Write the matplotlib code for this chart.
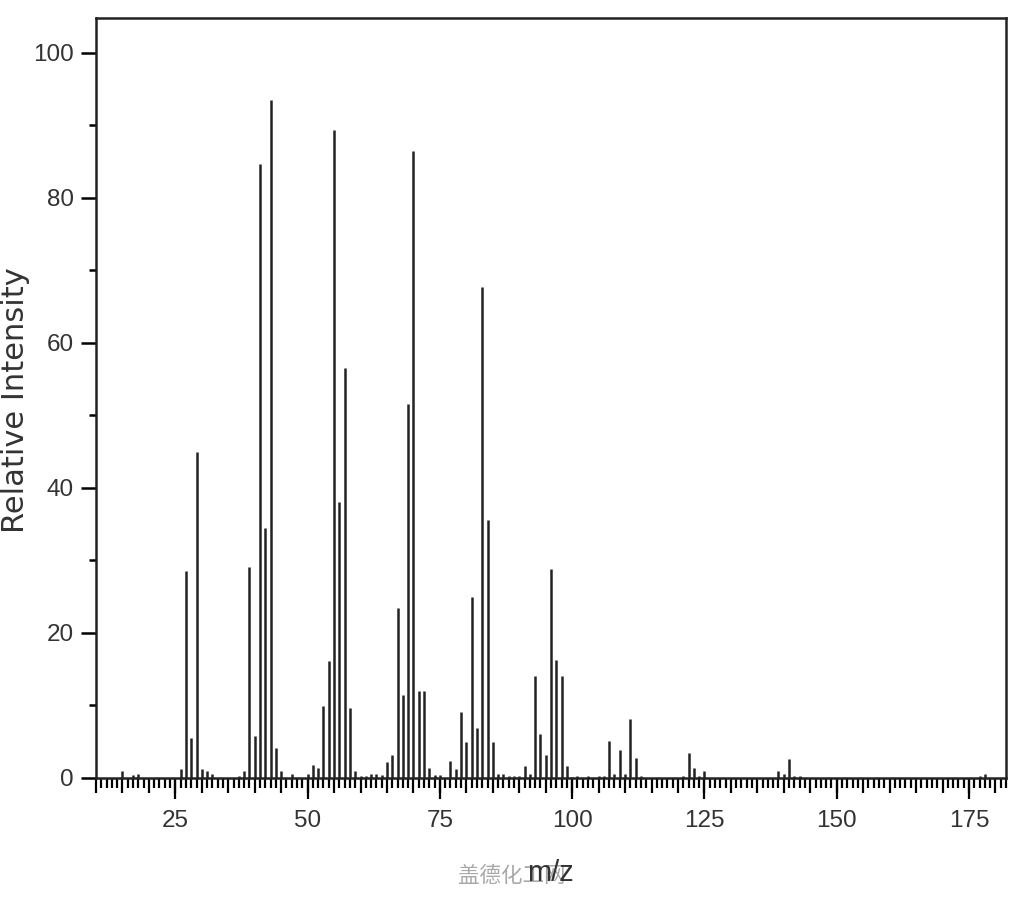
import matplotlib
matplotlib.use("Agg")
import matplotlib.pyplot as plt
from matplotlib.ticker import MultipleLocator, NullFormatter

# mass spectrum
mz = [15, 17, 18, 26, 27, 28, 29, 30, 31, 32, 37, 38, 39, 40, 41, 42, 43, 44, 45, 47,
      50, 51, 52, 53, 54, 55, 56, 57, 58, 59, 60, 61, 62, 63, 64, 65, 66, 67, 68, 69,
      70, 71, 72, 73, 74, 75, 77, 78, 79, 80, 81, 82, 83, 84, 85, 86, 87, 88, 89, 90,
      91, 92, 93, 94, 95, 96, 97, 98, 99, 100, 101, 103, 105, 106, 107, 108, 109, 110,
      111, 112, 113, 121, 122, 123, 124, 125, 139, 140, 141, 142, 143, 177, 178]
intensity = [0.9, 0.4, 0.6, 1.2, 28.6, 5.5, 45.0, 1.2, 0.9, 0.5, 0.3, 0.9, 29.1, 5.8, 84.6, 34.5, 93.5, 4.2, 0.9, 0.5,
             0.5, 1.8, 1.4, 9.9, 16.1, 89.4, 38.1, 56.6, 9.6, 0.9, 0.3, 0.3, 0.5, 0.6, 0.4, 2.2, 3.2, 23.5, 11.5, 51.6,
             86.5, 12.0, 12.0, 1.4, 0.4, 0.4, 2.4, 1.2, 9.1, 4.9, 24.9, 6.9, 67.7, 35.6, 4.9, 0.6, 0.5, 0.3, 0.3, 0.3,
             1.7, 0.6, 14.1, 6.0, 3.2, 28.8, 16.3, 14.1, 1.7, 0.2, 0.3, 0.3, 0.3, 0.3, 5.1, 0.6, 3.8, 0.6,
             8.1, 2.7, 0.3, 0.3, 3.5, 1.4, 0.3, 0.9, 0.9, 0.6, 2.6, 0.3, 0.3, 0.3, 0.5]

fig = plt.figure(figsize=(10.24, 9), dpi=100)
ax = fig.add_axes([96 / 1024, 122 / 900, 910 / 1024, 760 / 900])

ax.vlines(mz, 0, intensity, colors="#222222", linewidth=1.8)

ax.set_xlim(10, 182)
ax.set_ylim(0, 104.8)

for s in ax.spines.values():
    s.set_linewidth(1.8)
    s.set_color("#222222")

# y ticks
ax.yaxis.set_major_locator(MultipleLocator(20))
ax.yaxis.set_minor_locator(MultipleLocator(10))
ax.tick_params(axis="y", which="major", length=11, width=1.8, pad=5,
               labelsize=17.5, labelfontfamily="Liberation Sans", labelcolor="#333333")
ax.tick_params(axis="y", which="minor", length=5, width=1.8)

# x ticks: every unit short, every 5 medium, every 25 long with labels
ax.xaxis.set_major_locator(MultipleLocator(5))
ax.xaxis.set_minor_locator(MultipleLocator(1))
ax.xaxis.set_major_formatter(NullFormatter())
ax.tick_params(axis="x", which="major", length=11, width=1.6)
ax.tick_params(axis="x", which="minor", length=7, width=1.6)

sec = ax.secondary_xaxis("bottom")
sec.set_xticks([25, 50, 75, 100, 125, 150, 175])
sec.tick_params(length=15, width=1.6, pad=8, labelsize=17.5,
                labelfontfamily="Liberation Sans", labelcolor="#333333")
sec.spines["bottom"].set_visible(False)

ax.set_ylabel("Relative Intensity", fontsize=22, color="#333333", family="DejaVu Sans")
ax.yaxis.set_label_coords(-0.072, 0.497)

fig.text(512 / 1024, 1 - 876 / 900, "盖德化工网", fontsize=15.5, color="#a8a8a8",
         family=["Noto Sans CJK SC", "DejaVu Sans"], ha="center", va="center")
fig.text(550 / 1024, 1 - 873 / 900, "m/z", fontsize=21, color="#333333",
         family="Liberation Sans", ha="center", va="center")

plt.savefig("out.png", dpi=100)
